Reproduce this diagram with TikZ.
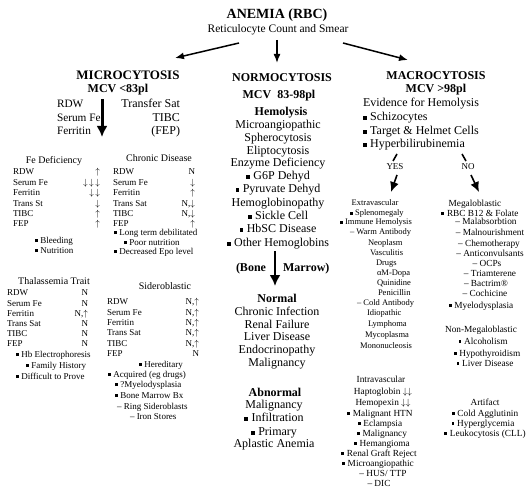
\documentclass[tikz,border=0pt]{standalone}
\usepackage{fontspec}
\setmainfont{Liberation Serif}
\usetikzlibrary{arrows.meta}
\newcommand\bul{\raisebox{0.22ex}{\rule{0.3em}{0.3em}}\hspace{0.3em}}
\newcommand\arrU{\ensuremath{\uparrow}}
\newcommand\arrD{\ensuremath{\downarrow}}
\begin{document}
\begin{tikzpicture}[x=1pt,y=-1pt,
  every node/.style={inner sep=0pt,outer sep=0pt},
  tt/.style={font=\fontsize{14}{16}\bfseries\selectfont,anchor=base,yshift=-4.6pt},
  sub/.style={font=\fontsize{11.5}{13}\selectfont,anchor=base,yshift=-3.6pt},
  hdb/.style={font=\fontsize{12}{14}\bfseries\selectfont,anchor=base,yshift=-4pt},
  big/.style={font=\fontsize{12}{14}\selectfont,anchor=base,yshift=-3.8pt},
  bigw/.style={big,anchor=base west},
  bige/.style={big,anchor=base east},
  hdt/.style={font=\fontsize{10}{12}\selectfont,anchor=base,yshift=-3.2pt},
  sm/.style={font=\fontsize{9}{10}\selectfont,anchor=base,yshift=-3pt},
  smw/.style={sm,anchor=base west},
  sme/.style={sm,anchor=base east},
  xs/.style={font=\fontsize{8.5}{10}\selectfont,anchor=base,yshift=-2.8pt},
  xsw/.style={xs,anchor=base west},
  rs/.style={font=\fontsize{9.3}{10}\selectfont,anchor=base,yshift=-3pt},
  bigarr/.style={line width=1.5pt,-{Latex[length=9pt,width=7pt]}},
  fatarr/.style={line width=3pt,-{Latex[length=11pt,width=11pt]}},
  midarr/.style={line width=1.6pt,-{Latex[length=10pt,width=9pt]}},
  slash/.style={line width=1.6pt}]
\fill[white] (0,0) rectangle (531,503);
% title
\node[tt] (title) at (277,14) {ANEMIA (RBC)};
\node[sub] (sub) at (278,29) {Reticulocyte Count and Smear};
\coordinate (aLs) at (239,43); \coordinate (aLe) at (175,58);
\coordinate (aMs) at (277,40); \coordinate (aMe) at (277,63);
\coordinate (aRs) at (343,43); \coordinate (aRe) at (408,60);
\draw[bigarr] (aLs) -- (aLe);
\draw[bigarr] (aMs) -- (aMe);
\draw[bigarr] (aRs) -- (aRe);
% microcytosis
\node[hdb,font=\fontsize{13}{15}\bfseries\selectfont] (micro) at (128,76) {MICROCYTOSIS};
\node[hdb] (mcv1) at (118,89) {MCV \textless83pl};
\node[bigw,font=\fontsize{11.3}{13}\selectfont] (m1) at (57,104) {RDW};
\node[bigw,font=\fontsize{11.3}{13}\selectfont] (m2) at (57,118) {Serum Fe};
\node[bigw,font=\fontsize{11.3}{13}\selectfont] (m3) at (57,131) {Ferritin};
\node[bige] (m4) at (180,104) {Transfer Sat};
\node[bige] (m5) at (180,118) {TIBC};
\node[bige] (m6) at (180,131) {(FEP)};
\coordinate (ma1) at (102,99); \coordinate (ma2) at (102,137);
\draw[fatarr] (ma1) -- (ma2);
% Fe deficiency
\node[hdt] (fed) at (54,160) {Fe Deficiency};
\foreach \yy/\ll/\vv [count=\i] in {172/RDW/\arrU, 182.5/Serum Fe/{\arrD\,\arrD\,\arrD}, 193/Ferritin/{\arrD\,\arrD}, 203/Trans St/\arrD, 213/TIBC/\arrU, 223/FEP/\arrU}{
  \node[smw] (fel\i) at (13,\yy) {\ll};
  \node[sme] (fev\i) at (100,\yy) {\vv};
}
\node[smw] (feb1) at (35,240) {\bul Bleeding};
\node[smw] (feb2) at (35,250) {\bul Nutrition};
% chronic disease
\node[hdt] (chd) at (159,158) {Chronic Disease};
\foreach \yy/\ll/\vv [count=\i] in {172/RDW/N, 182.5/Serum Fe/\arrD, 193/Ferritin/\arrU, 203/Trans Sat/{N,\arrD}, 213/TIBC/{N,\arrD}, 223/FEP/\arrU}{
  \node[smw] (chl\i) at (113,\yy) {\ll};
  \node[sme] (chv\i) at (195,\yy) {\vv};
}
\node[smw] (chb1) at (114,232) {\bul Long term debilitated};
\node[smw] (chb2) at (124,242) {\bul Poor nutrition};
\node[smw] (chb3) at (114,251) {\bul Decreased Epo level};
% thalassemia
\node[hdt] (thd) at (54,281) {Thalassemia Trait};
\foreach \yy/\ll/\vv [count=\i] in {292/RDW/N, 303/Serum Fe/N, 313/Ferritin/{N,\arrU}, 323/Trans Sat/N, 333/TIBC/N, 343/FEP/N}{
  \node[smw] (thl\i) at (7,\yy) {\ll};
  \node[sme] (thv\i) at (88,\yy) {\vv};
}
\node[smw] (thb1) at (16,354) {\bul Hb Electrophoresis};
\node[smw] (thb2) at (26,365) {\bul Family History};
\node[smw] (thb3) at (16,376) {\bul Difficult to Prove};
% sideroblastic
\node[hdt] (sid) at (165,286) {Sideroblastic};
\foreach \yy/\ll/\vv [count=\i] in {301/RDW/{N,\arrU}, 312/Serum Fe/{N,\arrU}, 322/Ferritin/{N,\arrU}, 332/Trans Sat/{N,\arrU}, 343/TIBC/{N,\arrU}, 353/FEP/N}{
  \node[smw] (sil\i) at (107,\yy) {\ll};
  \node[sme] (siv\i) at (199,\yy) {\vv};
}
\node[smw] (sib1) at (139,364) {\bul Hereditary};
\node[smw] (sib2) at (108,374) {\bul Acquired (eg drugs)};
\node[smw] (sib3) at (115,384) {\bul ?Myelodysplasia};
\node[smw] (sib4) at (115,395) {\bul Bone Marrow Bx};
\node[smw] (sib5) at (117,406) {-- Ring Sideroblasts};
\node[smw] (sib6) at (130,416) {-- Iron Stores};
% normocytosis
\node[hdb] (normo) at (282,78) {NORMOCYTOSIS};
\node[hdb] (mcv2) at (279,95) {MCV\ \ 83-98pl};
\node[hdb] (hemol) at (281,112) {Hemolysis};
\foreach \yy/\tx [count=\i] in {125/Microangiopathic, 138/Spherocytosis, 151/Eliptocytosis, 163/Enzyme Deficiency, 176/\bul G6P Dehyd, 189/\bul Pyruvate Dehyd, 203/Hemoglobinopathy, 216/\bul Sickle Cell, 229/\bul HbSC Disease, 243/\bul Other Hemoglobins}
  \node[big] (hm\i) at (278,\yy) {\tx};
\node[hdb,anchor=base east] (bone) at (266,267) {(Bone};
\node[hdb,anchor=base west] (marrow) at (283,267) {Marrow)};
\coordinate (bm1) at (275,251); \coordinate (bm2) at (275,286);
\draw[fatarr,line width=2.6pt] (bm1) -- (bm2);
\node[hdb] (normal) at (277,298) {Normal};
\foreach \yy/\tx [count=\i] in {312/Chronic Infection, 325/Renal Failure, 337/Liver Disease, 350/Endocrinopathy, 363/Malignancy}
  \node[big] (nl\i) at (277,\yy) {\tx};
\node[hdb] (abn) at (275,392) {Abnormal};
\foreach \yy/\tx [count=\i] in {405/Malignancy, 418/\bul Infiltration, 432/\bul Primary, 444/Aplastic Anemia}
  \node[big] (ab\i) at (274,\yy) {\tx};
% macrocytosis
\node[hdb] (macro) at (436,76) {MACROCYTOSIS};
\node[hdb] (mcv3) at (436,89) {MCV \textgreater98pl};
\node[bigw] (ev1) at (363,103) {Evidence for Hemolysis};
\node[bigw] (ev2) at (363,117) {\bul Schizocytes};
\node[bigw] (ev3) at (363,131) {\bul Target \&\ Helmet Cells};
\node[bigw] (ev4) at (363,144) {\bul Hyperbilirubinemia};
\coordinate (s1a) at (397,154); \coordinate (s1b) at (393,161);
\coordinate (s2a) at (462,154); \coordinate (s2b) at (466,161);
\draw[slash] (s1a) -- (s1b);
\draw[slash] (s2a) -- (s2b);
\node[sm] (yes) at (395,167) {YES};
\node[sm] (no) at (468,167) {NO};
\coordinate (y1) at (397,175); \coordinate (y2) at (391,192);
\coordinate (n1) at (471,175); \coordinate (n2) at (479,192);
\draw[midarr] (y1) -- (y2);
\draw[midarr] (n1) -- (n2);
% extravascular
\node[xs] (ex0) at (375,203) {Extravascular};
\foreach \xx/\yy/\tx [count=\i] in {350/213/\bul Splenomegaly, 340/222/\bul Immune Hemolysis, 350/232/-- Warm Antibody, 368/243/Neoplasm, 370/253/Vasculitis, 376/263/Drugs, 377/273/αM-Dopa, 377/283/Quinidine, 378/293/Penicillin, 357/303/-- Cold Antibody, 367/313/Idiopathic, 368/324/Lymphoma, 365/335/Mycoplasma, 360/346/Mononucleosis}
  \node[xsw] (ex\i) at (\xx,\yy) {\tx};
% intravascular
\foreach \xx/\yy/\tx [count=\i] in {381/379/Intravascular, 383/391/{Haptoglobin \arrD\arrD}, 383/402/{Hemopexin \arrD\arrD}, 380/413/\bul Malignant HTN, 380/423/\bul Eclampsia, 382/433/\bul Malignancy, 382/443/\bul Hemangioma, 379/453/\bul Renal Graft Reject, 378/463/\bul Microangiopathic, 383/473/{-- HUS/ TTP}, 379/483/-- DIC}
  \node[rs] (iv\i) at (\xx,\yy) {\tx};
% megaloblastic
\foreach \xx/\yy/\tx [count=\i] in {475/203/Megaloblastic, 480/213/\bul RBC B12 \&\ Folate, 486/222/-- Malabsorbtion, 490/232/-- Malnourishment, 489/243/-- Chemotherapy, 490/253/-- Anticonvulsants, 487/263/-- OCPs, 490/273/-- Triamterene, 486/283/-- Bactrim\textregistered, 485/293/-- Cochicine, 481/305/\bul Myelodysplasia}
  \node[rs] (mg\i) at (\xx,\yy) {\tx};
\foreach \xx/\yy/\tx [count=\i] in {481/329/Non-Megaloblastic, 483/341/\bul Alcoholism, 487/353/\bul Hypothyroidism, 485/363/\bul Liver Disease}
  \node[rs] (nm\i) at (\xx,\yy) {\tx};
\foreach \xx/\yy/\tx [count=\i] in {485/402/Artifact, 485/413/\bul Cold Agglutinin, 483/423/\bul Hyperglycemia, 485/433/\bul Leukocytosis (CLL)}
  \node[rs] (af\i) at (\xx,\yy) {\tx};
\end{tikzpicture}
\end{document}
